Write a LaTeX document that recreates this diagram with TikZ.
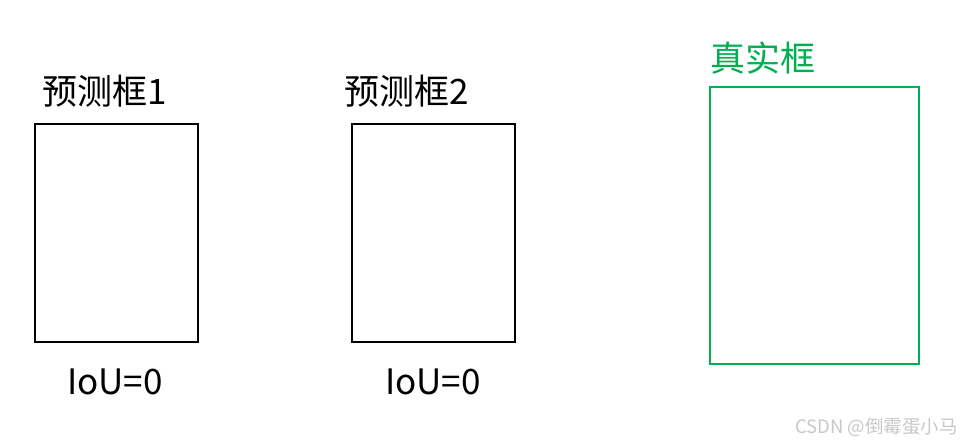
\documentclass[tikz,border=0pt]{standalone}
\usepackage{fontspec}
\setmainfont{Noto Sans CJK SC}
\usetikzlibrary{positioning}
\definecolor{truegreen}{HTML}{00B050}
\definecolor{markgray}{HTML}{C8C8C8}
\tikzstyle{PredBox} = [draw=black, line width=2pt, inner sep=0pt]
\tikzstyle{TrueBox} = [draw=truegreen, line width=2pt, inner sep=0pt]
\tikzstyle{Label} = [inner sep=0pt, font=\fontsize{35}{42}\selectfont]

\begin{document}
\begin{tikzpicture}[x=1pt, y=-1pt]
    \useasboundingbox (0,0) rectangle (962,444);
    \node (pred1) [PredBox, minimum width=163pt, minimum height=218pt] at (116.5,233) {};
    \node (pred2) [PredBox, minimum width=163pt, minimum height=218pt] at (433.5,233) {};
    \node (gt) [TrueBox, minimum width=209pt, minimum height=277pt] at (814.5,225.5) {};
    \node (lab1) [Label, anchor=base west] at (42,104) {预测框1};
    \node (lab2) [Label, anchor=base west] at (344,104) {预测框2};
    \node (labgt) [Label, anchor=base west, text=truegreen] at (710,72) {真实框};
    \node (iou1) [Label, anchor=base west] at (67,394) {IoU=0};
    \node (iou2) [Label, anchor=base west] at (385,394) {IoU=0};
    \node (mark) [inner sep=0pt, anchor=base east, text=markgray, font=\fontsize{18.5}{22}\selectfont] at (958,433) {CSDN @倒霉蛋小马};
\end{tikzpicture}
\end{document}
